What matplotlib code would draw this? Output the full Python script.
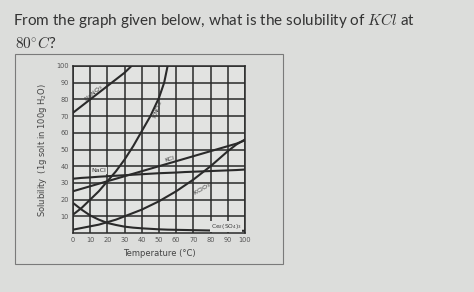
import matplotlib.pyplot as plt
from matplotlib.patches import Rectangle

# данные (температура, °C -> растворимость, г / 100 г воды)
t5 = [0, 5, 10, 15, 20, 25, 30, 35, 40, 45, 50, 55, 60, 65, 70, 75, 80, 85, 90, 95, 100]
nano3_t = [0, 10, 20, 30, 34]
nano3 = [72, 80, 88, 96, 100]
kno3_t = [0, 5, 10, 15, 20, 25, 30, 35, 40, 45, 50, 53, 55]
kno3 = [11, 15, 20, 25, 31, 37, 44, 52, 61, 70, 81, 90, 100]
kcl = [25, 26.5, 28, 29.5, 31, 32.5, 34, 35.5, 37, 38.5, 40, 41.5, 43, 44.5, 46, 47.5, 49, 50.5, 52, 53.5, 55.5]
nacl = [32.5, 33, 33.3, 33.7, 34, 34.3, 34.6, 34.9, 35.2, 35.5, 35.8, 36, 36.2, 36.5, 36.7, 36.9, 37.1, 37.3, 37.5, 37.7, 38]
kclo3 = [2, 3, 4, 5, 6.5, 8, 10, 12, 14, 16.5, 19, 22, 25, 28.5, 32, 36, 40, 44.5, 49, 53, 56]
ce2so43 = [18, 14, 10.5, 8, 6, 4.8, 3.8, 3.2, 2.8, 2.5, 2.2, 2, 1.9, 1.8, 1.7, 1.6, 1.5, 1.5, 1.4, 1.4, 1.3]

xticks = [0, 10, 20, 30, 40, 50, 60, 70, 80, 90, 100]
yticks = [10, 20, 30, 40, 50, 60, 70, 80, 90, 100]

bg = '#dcdddb'
ink = '#2a2a2a'

fig = plt.figure(figsize=(4.74, 2.92), dpi=100)
fig.patch.set_facecolor(bg)

# вопрос сверху
fig.text(13 / 474, 1 - 20 / 292, r"From the graph given below, what is the solubility of $KCl$ at",
         fontsize=11, family='Lato', color='#333333', va='center', math_fontfamily='cm')
fig.text(15 / 474, 1 - 43 / 292, r"$80^{\circ}C$?", fontsize=11, family='Lato',
         color='#333333', va='center', math_fontfamily='cm')

# рамка вокруг картинки
fig.patches.append(Rectangle((15 / 474, 1 - 264 / 292), 268 / 474, 210 / 292,
                             transform=fig.transFigure, fill=False,
                             edgecolor='#7a7a7a', linewidth=0.8))

ax = fig.add_axes([73 / 474, 1 - 233 / 292, 172 / 474, 167 / 292])
ax.set_facecolor('#e2e3e1')
ax.set_xlim(0, 100)
ax.set_ylim(0, 100)
ax.set_xticks(xticks)
ax.set_yticks(yticks)
ax.set_xticklabels([str(t) for t in xticks])
ax.set_yticklabels([str(t) for t in yticks])
ax.tick_params(length=0, labelsize=4.8, colors='#555555', pad=3)
ax.grid(True, color=ink, linewidth=1.1)
ax.set_axisbelow(True)
for s in ax.spines.values():
    s.set_color(ink)
    s.set_linewidth(1.1)

lw = 1.5
ax.plot(nano3_t, nano3, color=ink, lw=lw)
ax.plot(kno3_t, kno3, color=ink, lw=lw)
ax.plot(t5, kcl, color=ink, lw=lw)
ax.plot(t5, nacl, color=ink, lw=lw)
ax.plot(t5, kclo3, color=ink, lw=lw)
ax.plot(t5, ce2so43, color=ink, lw=lw)

lab = dict(fontsize=4.6, color='#3a3a3a', family='DejaVu Sans')
ax.text(12, 84, r"NaNO$_3$", rotation=40, ha='center', va='center', **lab)
ax.text(49.5, 74, r"KNO$_3$", rotation=70, ha='center', va='center', **lab)
ax.text(56, 44, "KCl", rotation=17, ha='center', va='center', **lab)
ax.text(15, 37.5, "NaCl", ha='center', va='center',
        bbox=dict(facecolor='#e2e3e1', edgecolor='none', pad=0.5), **lab)
ax.text(75, 26, r"KClO$_3$", rotation=30, ha='center', va='center', **lab)
ax.text(89, 4, r"Ce$_2$(SO$_4$)$_3$", ha='center', va='center', fontsize=4.3,
        color='#3a3a3a', family='DejaVu Sans',
        bbox=dict(facecolor='#e2e3e1', edgecolor='none', pad=0.5))

ax.set_xlabel("Temperature (°C)", fontsize=6, color='#444444', labelpad=4)
ax.set_ylabel(r"Solubility  (1g solt in 100g H$_2$O)", fontsize=6, color='#444444', labelpad=5)

fig.savefig('out.png', dpi=100, facecolor=bg)
